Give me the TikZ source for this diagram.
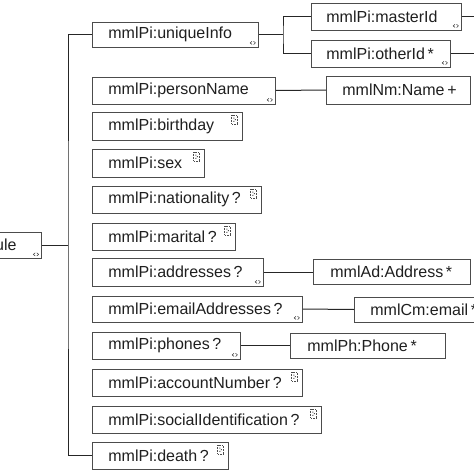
\documentclass[tikz,border=0pt]{standalone}
\usepackage{fontspec}
\setmainfont{Liberation Sans}
\begin{document}
\begin{tikzpicture}[x=1pt,y=-1pt,
  elem/.style={draw=black!70, line width=0.8pt, anchor=west, inner xsep=16pt, inner ysep=0pt,
    minimum height=27pt, text=black!88, font=\fontsize{16}{18}\selectfont, align=left},
  conn/.style={draw=black!85, line width=1pt},
  chev/.pic={\draw[black!75, line width=0.55pt] (-0.8,-1.6)--(-2.6,0)--(-0.8,1.6) (0.8,-1.6)--(2.6,0)--(0.8,1.6);},
  gridi/.pic={\draw[black!70, line width=0.5pt, densely dotted] (-2.6,-4.2) rectangle (2.6,4.2);
     \fill[black!70] (-1,-2) rectangle (0,-1) (0.6,-0.4) rectangle (1.6,0.6) (-1,1.2) rectangle (0,2.2);}
]
\useasboundingbox (0,0) rectangle (474,474);
\clip (0,0) rectangle (474,474);

% root
\node[elem, anchor=east, inner xsep=25pt, minimum height=26pt] (root) at (42,245) {ule};
\pic at ([shift={(-6,-4)}]root.south east) {chev};

% children
\node[elem, minimum height=25pt, text width=134pt] (ui) at (92,34.5) {mmlPi:uniqueInfo};
\node[elem, text width=151pt] (pn) at (92,90.5) {mmlPi:personName};
\node[elem, minimum height=28pt, text width=118pt] (bd) at (92,126) {mmlPi:birthday};
\node[elem, minimum height=28pt, text width=80pt] (sx) at (92,163) {mmlPi:sex};
\node[elem, text width=137pt] (na) at (92,199.5) {mmlPi:nationality\,?};
\node[elem, text width=111pt] (ma) at (92,236.5) {mmlPi:marital\,?};
\node[elem, minimum height=28pt, text width=139pt] (ad) at (92,272) {mmlPi:addresses\,?};
\node[elem, minimum height=26pt, text width=178pt] (em) at (92,309) {mmlPi:emailAddresses\,?};
\node[elem, text width=116pt] (ph) at (92,345.5) {mmlPi:phones\,?};
\node[elem, text width=178pt] (ac) at (92,382.5) {mmlPi:accountNumber\,?};
\node[elem, text width=197pt] (so) at (92,419.5) {mmlPi:socialIdentification\,?};
\node[elem, text width=104pt] (de) at (92,455.5) {mmlPi:death\,?};

% grandchildren
\node[elem, inner xsep=15pt, text width=120pt] (ms) at (311,16.5) {mmlPi:masterId};
\node[elem, inner xsep=15pt, text width=109pt] (ot) at (311,53.5) {mmlPi:otherId\,*};
\node[elem, minimum height=28pt, text width=112pt] (nm) at (326,90) {mmlNm:Name\,+};
\node[elem, minimum height=25pt, inner xsep=17pt, text width=123pt] (adr) at (313,272) {mmlAd:Address\,*};
\node[elem, minimum height=25pt, text width=110pt] (eml) at (354,309.5) {mmlCm:email\,*};
\node[elem, minimum height=25pt, inner xsep=17pt, text width=121pt] (pho) at (290,345.5) {mmlPh:Phone\,*};

% icons
\foreach \n in {ui,pn,ad,em,ph,ms,ot}{\pic at ([shift={(-6,-4.5)}]\n.south east) {chev};}
\foreach \n in {bd,sx,na,ma,ac,so,de}{\pic at ([shift={(-8.5,8)}]\n.north east) {gridi};}

% connectors
\coordinate (bus) at (68,245);
\draw[conn] (root.east) -- (bus);
\draw[conn] (ui.west) -| (bus) |- (de.west);

\coordinate (br) at (283,34.5);
\draw[conn] (ui.east) -- (br);
\draw[conn] (ms.west) -| (br) |- (ot.west);
\coordinate (msout) at (476,16.5);
\coordinate (otout) at (476,53.5);
\draw[conn] (ms.east) -- (msout);
\draw[conn] (ot.east) -- (otout);

\draw[conn] (pn.east) -- (nm.west);
\draw[conn] (ad.east) -- (adr.west);
\draw[conn] (em.east) -- (eml.west);
\draw[conn] (ph.east) -- (pho.west);
\end{tikzpicture}
\end{document}
